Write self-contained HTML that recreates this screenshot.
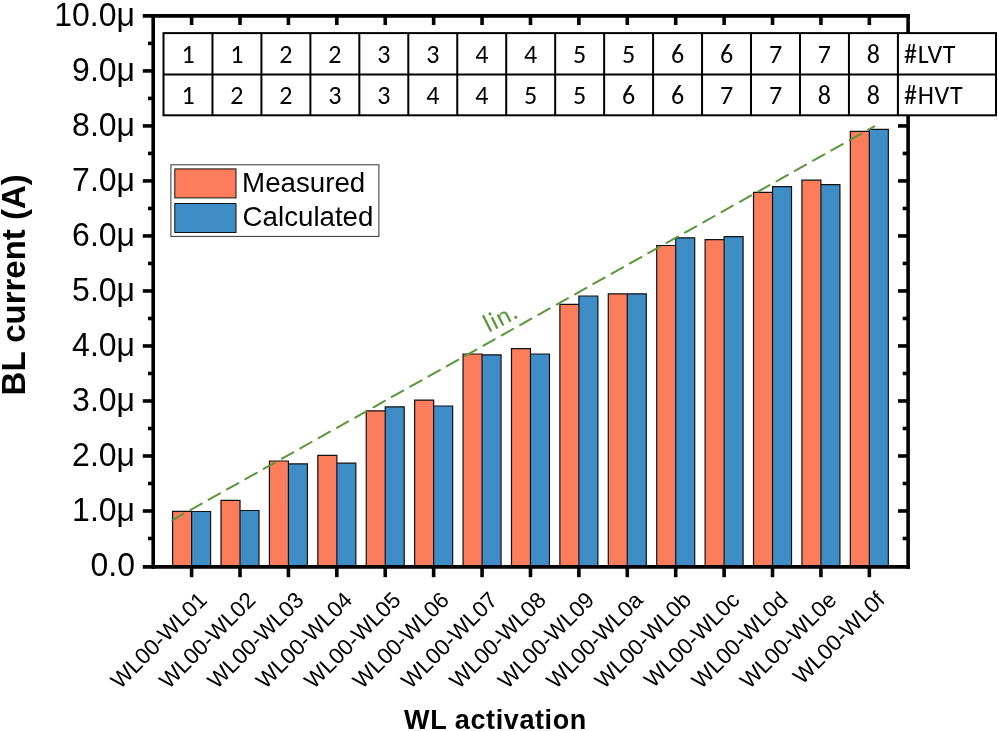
<!DOCTYPE html>
<html><head><meta charset="utf-8"><title>BL current vs WL activation</title>
<style>html,body{margin:0;padding:0;background:#fff;}body{width:998px;height:731px;overflow:hidden;}svg{display:block;}</style>
</head><body>
<svg width="998" height="731" viewBox="0 0 998 731">
<rect width="998" height="731" fill="#fff"/>
<rect x="172.6" y="511.3" width="19" height="55.7" fill="#FB7D5B"/>
<rect x="191.6" y="511.5" width="19" height="55.5" fill="#3E8DC6"/>
<path d="M172.6 567V511.3H191.6V567M191.6 567V511.5H210.6V567" fill="none" stroke="#111" stroke-width="1.2"/>
<rect x="221.01" y="500.3" width="19" height="66.7" fill="#FB7D5B"/>
<rect x="240.01" y="510.5" width="19" height="56.5" fill="#3E8DC6"/>
<path d="M221.01 567V500.3H240.01V567M240.01 567V510.5H259.01V567" fill="none" stroke="#111" stroke-width="1.2"/>
<rect x="269.42" y="461" width="19" height="106" fill="#FB7D5B"/>
<rect x="288.42" y="463.8" width="19" height="103.2" fill="#3E8DC6"/>
<path d="M269.42 567V461H288.42V567M288.42 567V463.8H307.42V567" fill="none" stroke="#111" stroke-width="1.2"/>
<rect x="317.83" y="455.4" width="19" height="111.6" fill="#FB7D5B"/>
<rect x="336.83" y="463.2" width="19" height="103.8" fill="#3E8DC6"/>
<path d="M317.83 567V455.4H336.83V567M336.83 567V463.2H355.83V567" fill="none" stroke="#111" stroke-width="1.2"/>
<rect x="366.24" y="410.8" width="19" height="156.2" fill="#FB7D5B"/>
<rect x="385.24" y="406.8" width="19" height="160.2" fill="#3E8DC6"/>
<path d="M366.24 567V410.8H385.24V567M385.24 567V406.8H404.24V567" fill="none" stroke="#111" stroke-width="1.2"/>
<rect x="414.65" y="400.1" width="19" height="166.9" fill="#FB7D5B"/>
<rect x="433.65" y="406" width="19" height="161" fill="#3E8DC6"/>
<path d="M414.65 567V400.1H433.65V567M433.65 567V406H452.65V567" fill="none" stroke="#111" stroke-width="1.2"/>
<rect x="463.06" y="354" width="19" height="213" fill="#FB7D5B"/>
<rect x="482.06" y="354.8" width="19" height="212.2" fill="#3E8DC6"/>
<path d="M463.06 567V354H482.06V567M482.06 567V354.8H501.06V567" fill="none" stroke="#111" stroke-width="1.2"/>
<rect x="511.47" y="348.6" width="19" height="218.4" fill="#FB7D5B"/>
<rect x="530.47" y="354" width="19" height="213" fill="#3E8DC6"/>
<path d="M511.47 567V348.6H530.47V567M530.47 567V354H549.47V567" fill="none" stroke="#111" stroke-width="1.2"/>
<rect x="559.88" y="304.4" width="19" height="262.6" fill="#FB7D5B"/>
<rect x="578.88" y="296" width="19" height="271" fill="#3E8DC6"/>
<path d="M559.88 567V304.4H578.88V567M578.88 567V296H597.88V567" fill="none" stroke="#111" stroke-width="1.2"/>
<rect x="608.29" y="293.9" width="19" height="273.1" fill="#FB7D5B"/>
<rect x="627.29" y="293.9" width="19" height="273.1" fill="#3E8DC6"/>
<path d="M608.29 567V293.9H627.29V567M627.29 567V293.9H646.29V567" fill="none" stroke="#111" stroke-width="1.2"/>
<rect x="656.7" y="245.5" width="19" height="321.5" fill="#FB7D5B"/>
<rect x="675.7" y="237.8" width="19" height="329.2" fill="#3E8DC6"/>
<path d="M656.7 567V245.5H675.7V567M675.7 567V237.8H694.7V567" fill="none" stroke="#111" stroke-width="1.2"/>
<rect x="705.11" y="239.6" width="19" height="327.4" fill="#FB7D5B"/>
<rect x="724.11" y="236.6" width="19" height="330.4" fill="#3E8DC6"/>
<path d="M705.11 567V239.6H724.11V567M724.11 567V236.6H743.11V567" fill="none" stroke="#111" stroke-width="1.2"/>
<rect x="753.52" y="192.4" width="19" height="374.6" fill="#FB7D5B"/>
<rect x="772.52" y="186.6" width="19" height="380.4" fill="#3E8DC6"/>
<path d="M753.52 567V192.4H772.52V567M772.52 567V186.6H791.52V567" fill="none" stroke="#111" stroke-width="1.2"/>
<rect x="801.93" y="180.2" width="19" height="386.8" fill="#FB7D5B"/>
<rect x="820.93" y="184.7" width="19" height="382.3" fill="#3E8DC6"/>
<path d="M801.93 567V180.2H820.93V567M820.93 567V184.7H839.93V567" fill="none" stroke="#111" stroke-width="1.2"/>
<rect x="850.34" y="131.4" width="19" height="435.6" fill="#FB7D5B"/>
<rect x="869.34" y="129.4" width="19" height="437.6" fill="#3E8DC6"/>
<path d="M850.34 567V131.4H869.34V567M869.34 567V129.4H888.34V567" fill="none" stroke="#111" stroke-width="1.2"/>
<line x1="170.4" y1="521.2" x2="874.3" y2="126.4" stroke="#5A963C" stroke-width="2.0" stroke-dasharray="13 8" stroke-dashoffset="-1.9" stroke-linecap="round"/>
<text transform="translate(488.6,332.8) rotate(-27)" font-family="Carlito, 'Liberation Sans', sans-serif" font-size="26" letter-spacing="0.8" fill="#5A963C">lin.</text>
<g stroke="#000" stroke-width="3.6" fill="none">
<line x1="153.2" y1="14.1" x2="153.2" y2="568.7"/>
<line x1="908.1" y1="14.1" x2="908.1" y2="568.7"/>
<line x1="142.8" y1="15.9" x2="909.9" y2="15.9"/>
<line x1="142.8" y1="566.9" x2="909.9" y2="566.9"/>
<line x1="142.8" y1="510.99" x2="153.2" y2="510.99"/>
<line x1="898" y1="510.99" x2="908.1" y2="510.99"/>
<line x1="142.8" y1="455.98" x2="153.2" y2="455.98"/>
<line x1="898" y1="455.98" x2="908.1" y2="455.98"/>
<line x1="142.8" y1="400.97" x2="153.2" y2="400.97"/>
<line x1="898" y1="400.97" x2="908.1" y2="400.97"/>
<line x1="142.8" y1="345.96" x2="153.2" y2="345.96"/>
<line x1="898" y1="345.96" x2="908.1" y2="345.96"/>
<line x1="142.8" y1="290.95" x2="153.2" y2="290.95"/>
<line x1="898" y1="290.95" x2="908.1" y2="290.95"/>
<line x1="142.8" y1="235.94" x2="153.2" y2="235.94"/>
<line x1="898" y1="235.94" x2="908.1" y2="235.94"/>
<line x1="142.8" y1="180.93" x2="153.2" y2="180.93"/>
<line x1="898" y1="180.93" x2="908.1" y2="180.93"/>
<line x1="142.8" y1="125.92" x2="153.2" y2="125.92"/>
<line x1="898" y1="125.92" x2="908.1" y2="125.92"/>
<line x1="142.8" y1="70.91" x2="153.2" y2="70.91"/>
<line x1="898" y1="70.91" x2="908.1" y2="70.91"/>
<line x1="148" y1="538.5" x2="153.2" y2="538.5"/>
<line x1="902.7" y1="538.5" x2="908.1" y2="538.5"/>
<line x1="148" y1="483.49" x2="153.2" y2="483.49"/>
<line x1="902.7" y1="483.49" x2="908.1" y2="483.49"/>
<line x1="148" y1="428.48" x2="153.2" y2="428.48"/>
<line x1="902.7" y1="428.48" x2="908.1" y2="428.48"/>
<line x1="148" y1="373.47" x2="153.2" y2="373.47"/>
<line x1="902.7" y1="373.47" x2="908.1" y2="373.47"/>
<line x1="148" y1="318.46" x2="153.2" y2="318.46"/>
<line x1="902.7" y1="318.46" x2="908.1" y2="318.46"/>
<line x1="148" y1="263.44" x2="153.2" y2="263.44"/>
<line x1="902.7" y1="263.44" x2="908.1" y2="263.44"/>
<line x1="148" y1="208.44" x2="153.2" y2="208.44"/>
<line x1="902.7" y1="208.44" x2="908.1" y2="208.44"/>
<line x1="148" y1="153.43" x2="153.2" y2="153.43"/>
<line x1="902.7" y1="153.43" x2="908.1" y2="153.43"/>
<line x1="148" y1="98.42" x2="153.2" y2="98.42"/>
<line x1="902.7" y1="98.42" x2="908.1" y2="98.42"/>
<line x1="148" y1="43.4" x2="153.2" y2="43.4"/>
<line x1="902.7" y1="43.4" x2="908.1" y2="43.4"/>
<line x1="191.6" y1="566.9" x2="191.6" y2="577.2"/>
<line x1="191.6" y1="15.9" x2="191.6" y2="25"/>
<line x1="240.01" y1="566.9" x2="240.01" y2="577.2"/>
<line x1="240.01" y1="15.9" x2="240.01" y2="25"/>
<line x1="288.42" y1="566.9" x2="288.42" y2="577.2"/>
<line x1="288.42" y1="15.9" x2="288.42" y2="25"/>
<line x1="336.83" y1="566.9" x2="336.83" y2="577.2"/>
<line x1="336.83" y1="15.9" x2="336.83" y2="25"/>
<line x1="385.24" y1="566.9" x2="385.24" y2="577.2"/>
<line x1="385.24" y1="15.9" x2="385.24" y2="25"/>
<line x1="433.65" y1="566.9" x2="433.65" y2="577.2"/>
<line x1="433.65" y1="15.9" x2="433.65" y2="25"/>
<line x1="482.06" y1="566.9" x2="482.06" y2="577.2"/>
<line x1="482.06" y1="15.9" x2="482.06" y2="25"/>
<line x1="530.47" y1="566.9" x2="530.47" y2="577.2"/>
<line x1="530.47" y1="15.9" x2="530.47" y2="25"/>
<line x1="578.88" y1="566.9" x2="578.88" y2="577.2"/>
<line x1="578.88" y1="15.9" x2="578.88" y2="25"/>
<line x1="627.29" y1="566.9" x2="627.29" y2="577.2"/>
<line x1="627.29" y1="15.9" x2="627.29" y2="25"/>
<line x1="675.7" y1="566.9" x2="675.7" y2="577.2"/>
<line x1="675.7" y1="15.9" x2="675.7" y2="25"/>
<line x1="724.11" y1="566.9" x2="724.11" y2="577.2"/>
<line x1="724.11" y1="15.9" x2="724.11" y2="25"/>
<line x1="772.52" y1="566.9" x2="772.52" y2="577.2"/>
<line x1="772.52" y1="15.9" x2="772.52" y2="25"/>
<line x1="820.93" y1="566.9" x2="820.93" y2="577.2"/>
<line x1="820.93" y1="15.9" x2="820.93" y2="25"/>
<line x1="869.34" y1="566.9" x2="869.34" y2="577.2"/>
<line x1="869.34" y1="15.9" x2="869.34" y2="25"/>
</g>
<g font-family="'Liberation Sans', Arial, sans-serif" font-size="32" text-anchor="end" fill="#000">
<text transform="translate(135,575.7) scale(1,1.065)">0.0</text>
<text transform="translate(135,520.69) scale(1,1.065)">1.0μ</text>
<text transform="translate(135,465.68) scale(1,1.065)">2.0μ</text>
<text transform="translate(135,410.67) scale(1,1.065)">3.0μ</text>
<text transform="translate(135,355.66) scale(1,1.065)">4.0μ</text>
<text transform="translate(135,300.65) scale(1,1.065)">5.0μ</text>
<text transform="translate(135,245.64) scale(1,1.065)">6.0μ</text>
<text transform="translate(135,190.63) scale(1,1.065)">7.0μ</text>
<text transform="translate(135,135.62) scale(1,1.065)">8.0μ</text>
<text transform="translate(135,80.61) scale(1,1.065)">9.0μ</text>
<text transform="translate(135,25.6) scale(1,1.065)">10.0μ</text>
</g>
<rect x="163.5" y="33.1" width="832.5" height="82.2" fill="#fff" stroke="none"/>
<g stroke="#000" stroke-width="2" fill="none">
<rect x="163.5" y="33.1" width="832.5" height="82.2"/>
<line x1="163.5" y1="74.4" x2="996" y2="74.4"/>
<line x1="212.46" y1="33.1" x2="212.46" y2="115.3"/>
<line x1="261.42" y1="33.1" x2="261.42" y2="115.3"/>
<line x1="310.38" y1="33.1" x2="310.38" y2="115.3"/>
<line x1="359.34" y1="33.1" x2="359.34" y2="115.3"/>
<line x1="408.3" y1="33.1" x2="408.3" y2="115.3"/>
<line x1="457.26" y1="33.1" x2="457.26" y2="115.3"/>
<line x1="506.22" y1="33.1" x2="506.22" y2="115.3"/>
<line x1="555.18" y1="33.1" x2="555.18" y2="115.3"/>
<line x1="604.14" y1="33.1" x2="604.14" y2="115.3"/>
<line x1="653.1" y1="33.1" x2="653.1" y2="115.3"/>
<line x1="702.06" y1="33.1" x2="702.06" y2="115.3"/>
<line x1="751.02" y1="33.1" x2="751.02" y2="115.3"/>
<line x1="799.98" y1="33.1" x2="799.98" y2="115.3"/>
<line x1="848.94" y1="33.1" x2="848.94" y2="115.3"/>
<line x1="897.9" y1="33.1" x2="897.9" y2="115.3"/>
</g>
<g font-family="Carlito, 'Liberation Sans', sans-serif" font-size="26" fill="#000" text-anchor="middle">
<text x="187.98" y="62.9">1</text>
<text x="187.98" y="103.9">1</text>
<text x="236.94" y="62.9">1</text>
<text x="236.94" y="103.9">2</text>
<text x="285.9" y="62.9">2</text>
<text x="285.9" y="103.9">2</text>
<text x="334.86" y="62.9">2</text>
<text x="334.86" y="103.9">3</text>
<text x="383.82" y="62.9">3</text>
<text x="383.82" y="103.9">3</text>
<text x="432.78" y="62.9">3</text>
<text x="432.78" y="103.9">4</text>
<text x="481.74" y="62.9">4</text>
<text x="481.74" y="103.9">4</text>
<text x="530.7" y="62.9">4</text>
<text x="530.7" y="103.9">5</text>
<text x="579.66" y="62.9">5</text>
<text x="579.66" y="103.9">5</text>
<text x="628.62" y="62.9">5</text>
<text x="628.62" y="103.9">6</text>
<text x="677.58" y="62.9">6</text>
<text x="677.58" y="103.9">6</text>
<text x="726.54" y="62.9">6</text>
<text x="726.54" y="103.9">7</text>
<text x="775.5" y="62.9">7</text>
<text x="775.5" y="103.9">7</text>
<text x="824.46" y="62.9">7</text>
<text x="824.46" y="103.9">8</text>
<text x="873.42" y="62.9">8</text>
<text x="873.42" y="103.9">8</text>
</g>
<g font-family="Carlito, 'Liberation Sans', sans-serif" font-size="26" fill="#000">
<text x="904" y="62.7" letter-spacing="0.7">#LVT</text>
<text x="904" y="103.9" letter-spacing="0.7">#HVT</text>
</g>
<rect x="170.9" y="164.8" width="208" height="71.6" fill="#fff" stroke="#333" stroke-width="1"/>
<rect x="174.8" y="168.9" width="61.2" height="29" fill="#FB7D5B" stroke="#111" stroke-width="1"/>
<rect x="174.8" y="203.5" width="61.2" height="29" fill="#3E8DC6" stroke="#111" stroke-width="1"/>
<g font-family="'Liberation Sans', Arial, sans-serif" font-size="27.7" fill="#000">
<text x="242.1" y="192">Measured</text>
<text x="242.6" y="226">Calculated</text>
</g>
<g font-family="'Liberation Sans', Arial, sans-serif" font-size="22.5" fill="#000" text-anchor="end">
<text transform="translate(208.4,601.3) rotate(-45)">WL00-WL01</text>
<text transform="translate(256.81,601.3) rotate(-45)">WL00-WL02</text>
<text transform="translate(305.22,601.3) rotate(-45)">WL00-WL03</text>
<text transform="translate(353.63,601.3) rotate(-45)">WL00-WL04</text>
<text transform="translate(402.04,601.3) rotate(-45)">WL00-WL05</text>
<text transform="translate(450.45,601.3) rotate(-45)">WL00-WL06</text>
<text transform="translate(498.86,601.3) rotate(-45)">WL00-WL07</text>
<text transform="translate(547.27,601.3) rotate(-45)">WL00-WL08</text>
<text transform="translate(595.68,601.3) rotate(-45)">WL00-WL09</text>
<text transform="translate(644.09,601.3) rotate(-45)">WL00-WL0a</text>
<text transform="translate(692.5,601.3) rotate(-45)">WL00-WL0b</text>
<text transform="translate(740.91,601.3) rotate(-45)">WL00-WL0c</text>
<text transform="translate(789.32,601.3) rotate(-45)">WL00-WL0d</text>
<text transform="translate(837.73,601.3) rotate(-45)">WL00-WL0e</text>
<text transform="translate(886.14,601.3) rotate(-45)">WL00-WL0f</text>
</g>
<text transform="translate(25.2,284.8) rotate(-90)" text-anchor="middle" font-family="'Liberation Sans', Arial, sans-serif" font-size="33" font-weight="bold">BL current (A)</text>
<text x="495.5" y="728.9" text-anchor="middle" font-family="'Liberation Sans', Arial, sans-serif" font-size="27" letter-spacing="0.6" font-weight="bold">WL activation</text>
</svg>
</body></html>
